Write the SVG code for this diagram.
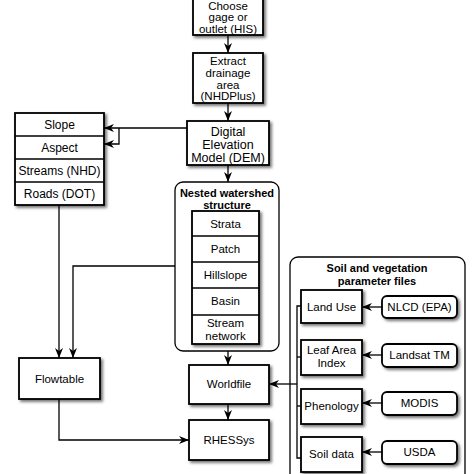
<svg xmlns="http://www.w3.org/2000/svg" width="474" height="474" viewBox="0 0 474 474">
<defs>
<filter id="sh" x="-20%" y="-20%" width="150%" height="150%">
<feDropShadow dx="2" dy="2" stdDeviation="1.8" flood-color="#000" flood-opacity="0.55"/>
</filter>
<marker id="ah" viewBox="0 0 10 8" refX="10" refY="4" markerWidth="10" markerHeight="8" markerUnits="userSpaceOnUse" orient="auto">
<path d="M0,0 L10,4 L0,8 L3,4 z" fill="#000"/>
</marker>
</defs>
<style>
.b{fill:#fff;stroke:#000;stroke-width:1.8}
.c{fill:#fff;stroke:#000;stroke-width:1.3}
.l{fill:none;stroke:#000;stroke-width:1.3}
.a{fill:none;stroke:#000;stroke-width:1.3;marker-end:url(#ah)}
text{font-family:"Liberation Sans",Arial,sans-serif;font-size:11.5px;text-anchor:middle;fill:#000}
.t{font-weight:bold;font-size:11px}
</style>
<rect width="474" height="474" fill="#fff"/>
<g id="nested-container">
<rect class="c" x="175" y="182" width="104" height="169" rx="8"/>
<text class="t" x="227" y="197">Nested watershed</text>
<text class="t" x="227" y="209">structure</text>
</g>
<g id="soilveg">
<rect class="c" x="290" y="257" width="175" height="230" rx="8"/>
<text class="t" x="377" y="272">Soil and vegetation</text>
<text class="t" x="377" y="285">parameter files</text>
</g>
<g id="connectors">
<line class="a" x1="228" y1="35" x2="228" y2="53"/>
<line class="a" x1="228" y1="103" x2="228" y2="121"/>
<line class="a" x1="228" y1="165" x2="228" y2="182"/>
<line class="a" x1="187" y1="128" x2="104" y2="128"/>
<polyline class="a" points="119,128 119,144 104,144"/>
<line class="a" x1="59" y1="205" x2="59" y2="358"/>
<polyline class="a" points="175,266 73,266 73,358"/>
<line class="a" x1="228" y1="351" x2="228" y2="365"/>
<line class="a" x1="228" y1="404" x2="228" y2="420"/>
<polyline class="a" points="59,399 59,440 189,440"/>
<polyline class="l" points="301,306 297,306 297,458 301,458"/>
<line class="l" x1="297" y1="357" x2="301" y2="357"/>
<line class="l" x1="297" y1="406" x2="301" y2="406"/>
<line class="a" x1="297" y1="384" x2="269" y2="384"/>
<line class="a" x1="382" y1="307" x2="362" y2="307"/>
<line class="a" x1="382" y1="355" x2="362" y2="355"/>
<line class="a" x1="382" y1="403" x2="362" y2="403"/>
<line class="a" x1="382" y1="452" x2="362" y2="452"/>
</g>
<g id="choose">
<rect class="b" x="193" y="-5" width="70" height="40" filter="url(#sh)"/>
<text x="228" y="9.5">Choose</text>
<text x="228" y="21">gage or</text>
<text x="228" y="32.5">outlet (HIS)</text>
</g>
<g id="extract">
<rect class="b" x="193" y="53" width="70" height="50" filter="url(#sh)"/>
<text x="228" y="65">Extract</text>
<text x="228" y="77">drainage</text>
<text x="228" y="88.5">area</text>
<text x="228" y="100">(NHDPlus)</text>
</g>
<g id="dem">
<rect class="b" x="187" y="121" width="82" height="44" filter="url(#sh)"/>
<text x="228" y="136" style="font-size:12.5px">Digital</text>
<text x="228" y="149" style="font-size:12.5px">Elevation</text>
<text x="228" y="162" style="font-size:12.5px">Model (DEM)</text>
</g>
<g id="terrain">
<rect class="b" x="15" y="113" width="89" height="92" filter="url(#sh)"/>
<line class="l" x1="15" y1="136" x2="104" y2="136"/>
<line class="l" x1="15" y1="159" x2="104" y2="159"/>
<line class="l" x1="15" y1="182" x2="104" y2="182"/>
<text x="59.5" y="129" style="font-size:12px">Slope</text>
<text x="59.5" y="152" style="font-size:12px">Aspect</text>
<text x="59.5" y="175" style="font-size:12px">Streams (NHD)</text>
<text x="59.5" y="198" style="font-size:12px">Roads (DOT)</text>
</g>
<g id="nested">
<rect class="b" x="192" y="211" width="67" height="133" filter="url(#sh)"/>
<line class="l" x1="192" y1="236" x2="259" y2="236"/>
<line class="l" x1="192" y1="262" x2="259" y2="262"/>
<line class="l" x1="192" y1="288" x2="259" y2="288"/>
<line class="l" x1="192" y1="315" x2="259" y2="315"/>
<text x="225.5" y="228">Strata</text>
<text x="225.5" y="253">Patch</text>
<text x="225.5" y="279">Hillslope</text>
<text x="225.5" y="305">Basin</text>
<text x="225.5" y="327">Stream</text>
<text x="225.5" y="340">network</text>
</g>
<g id="flowtable">
<rect class="b" x="19" y="358" width="81" height="41" filter="url(#sh)"/>
<text x="59.5" y="383">Flowtable</text>
</g>
<g id="worldfile">
<rect class="b" x="189" y="365" width="80" height="39" filter="url(#sh)"/>
<text x="229" y="388">Worldfile</text>
</g>
<g id="rhessys">
<rect class="b" x="189" y="420" width="80" height="40" filter="url(#sh)"/>
<text x="229" y="444">RHESSys</text>
</g>
<g id="landuse">
<rect class="b" x="301" y="290" width="61" height="33" filter="url(#sh)"/>
<text x="331.5" y="311">Land Use</text>
</g>
<g id="lai">
<rect class="b" x="301" y="340" width="61" height="35" filter="url(#sh)"/>
<text x="331.5" y="354">Leaf Area</text>
<text x="331.5" y="367">Index</text>
</g>
<g id="phenology">
<rect class="b" x="301" y="389" width="61" height="35" filter="url(#sh)"/>
<text x="331.5" y="410">Phenology</text>
</g>
<g id="soildata">
<rect class="b" x="301" y="437" width="61" height="35" filter="url(#sh)"/>
<text x="331.5" y="458">Soil data</text>
</g>
<g id="nlcd">
<rect class="b" x="382" y="296" width="75" height="22" rx="5" filter="url(#sh)"/>
<text x="419.5" y="311">NLCD (EPA)</text>
</g>
<g id="landsat">
<rect class="b" x="382" y="344" width="75" height="23" rx="5" filter="url(#sh)"/>
<text x="419.5" y="359">Landsat TM</text>
</g>
<g id="modis">
<rect class="b" x="382" y="392" width="75" height="23" rx="5" filter="url(#sh)"/>
<text x="419.5" y="407">MODIS</text>
</g>
<g id="usda">
<rect class="b" x="382" y="441" width="75" height="23" rx="5" filter="url(#sh)"/>
<text x="419.5" y="456">USDA</text>
</g>
</svg>
